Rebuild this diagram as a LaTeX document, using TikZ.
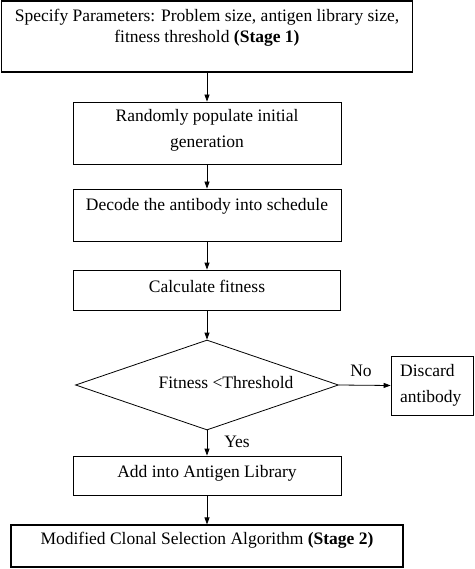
\documentclass[tikz,border=0pt]{standalone}
\usepackage{fontspec}
\setmainfont{Liberation Serif}
\usetikzlibrary{shapes.geometric,arrows.meta}
\begin{document}
\begin{tikzpicture}[x=1pt,y=-1pt,
  box/.style={draw, line width=0.8pt, rectangle, inner sep=0pt},
  lbl/.style={font=\fontsize{17.5}{21}\selectfont, inner sep=0pt, align=center},
  arr/.style={-{Triangle[length=7pt,width=5pt]}, line width=0.8pt}]
\useasboundingbox (0,0) rectangle (474,569);
% boxes
\node[box, line width=1.1pt, minimum width=411pt, minimum height=71pt] (b1) at (207,36.5) {};
\node[box, minimum width=268pt, minimum height=62pt] (b2) at (207,133) {};
\node[box, minimum width=268pt, minimum height=52pt] (b3) at (207,215) {};
\node[box, minimum width=267pt, minimum height=40pt] (b4) at (207,290) {};
\node[draw, line width=0.8pt, diamond, inner sep=0pt, minimum width=263pt, minimum height=90pt] (d) at (207,385) {};
\node[box, minimum width=82pt, minimum height=59pt] (dis) at (432,385.5) {};
\node[box, minimum width=268pt, minimum height=39pt] (b5) at (207,475.5) {};
\node[box, line width=1.1pt, minimum width=392pt, minimum height=42pt] (b6) at (207,546) {};
% texts
\node[lbl] (t1) at (207,27.5) {Specify Parameters: Problem size, antigen library size,\\ fitness threshold \textbf{(Stage 1)}};
\node[lbl, font=\fontsize{17.5}{26}\selectfont] (t2) at (207,130) {Randomly populate initial\\generation};
\node[lbl] (t3) at (207,206) {Decode the antibody into schedule};
\node[lbl] (t4) at (207,286) {Calculate fitness};
\node[lbl] (t5) at (226,383) {Fitness <Threshold};
\node[lbl, font=\fontsize{17.5}{26}\selectfont, align=left, anchor=west] (t6) at (400,385) {Discard\\antibody};
\node[lbl] (t7) at (207,473) {Add into Antigen Library};
\node[lbl] (t8) at (207,540) {Modified Clonal Selection Algorithm \textbf{(Stage 2)}};
\node[lbl] (no) at (361,371) {No};
\node[lbl] (yes) at (237,442) {Yes};
% arrows
\draw[arr] (b1.south) -- (b2.north);
\draw[arr] (b2.south) -- (b3.north);
\draw[arr] (b3.south) -- (b4.north);
\draw[arr] (b4.south) -- (d.north);
\draw[arr] (d.east) -- (dis.west);
\draw[arr] (d.south) -- (b5.north);
\draw[arr] (b5.south) -- (b6.north);
\end{tikzpicture}
\end{document}
